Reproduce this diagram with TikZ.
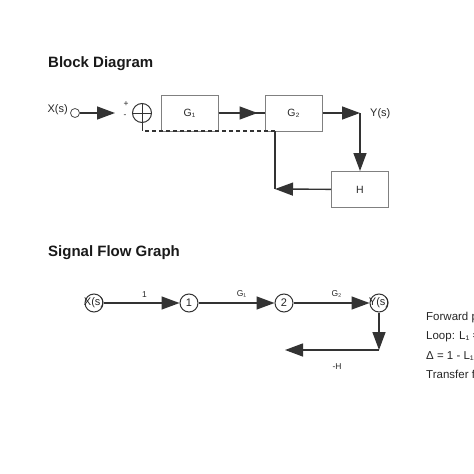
\documentclass[tikz,border=0pt]{standalone}
\usepackage{fontspec}
\setmainfont{Liberation Sans}
\usetikzlibrary{arrows.meta}

\begin{document}
\begin{tikzpicture}[x=1pt,y=-1pt,
    lne/.style={line width=1.4pt,draw=black!80},
    tip/.style={lne,-{Triangle[length=18pt,width=13pt]}},
    blk/.style={draw=black!50,line width=1pt,minimum width=57pt,minimum height=36pt,inner sep=0pt,font=\fontsize{10.5}{12}\selectfont,text=black!85},
    sfg/.style={draw=black!80,line width=1pt,circle,minimum size=18pt,inner sep=0pt,fill=white},
    ttl/.style={anchor=base west,inner sep=0pt,font=\fontsize{15}{18}\bfseries\selectfont,text=black!90},
    lbl/.style={inner sep=0pt,font=\fontsize{11}{13}\selectfont,text=black!85},
    frm/.style={anchor=west,inner sep=0pt,font=\fontsize{11.5}{13}\selectfont,text=black!85},
    sml/.style={inner sep=0pt,font=\fontsize{8.5}{10}\selectfont,text=black!85}]
  \useasboundingbox (0,0) rectangle (474,474) ;
  % block diagram
  \node[ttl] (bdtitle) at (48,67) {Block Diagram} ;
  \node[lbl,anchor=east] (xs) at (68,110) {X(s)} ;
  \node[circle,draw=black!70,line width=0.8pt,minimum size=9pt,inner sep=0pt] (in) at (75,113) {} ;
  \node[circle,draw=black!80,line width=1pt,minimum size=19pt,inner sep=0pt] (sum) at (142,113) {} ;
  \node[sml] (plus) at (126,104) {+} ;
  \node[sml] (minus) at (125,116) {-} ;
  \node[blk] (g1) at (189.5,113) {G₁} ;
  \node[blk] (g2) at (293.5,113) {G₂} ;
  \node[blk] (h) at (360,189.5) {H} ;
  \node[lbl,anchor=west] (ys) at (370,114) {Y(s)} ;
  \coordinate (ybr) at (360,113) ;
  \coordinate (fbc) at (275,189) ;
  \coordinate (fbt) at (275,131) ;
  \coordinate (sumb) at (142,131) ;
  \draw[black!80,line width=1pt] (sum.west) -- (sum.east) (sum.north) -- (sumb) ;
  \draw[tip,shorten >=17pt] (in) -- (sum.west) ;
  \draw[lne] (g1) -- (g2) ;
  \draw[tip,shorten >=7pt] (g1) -- (g2) ;
  \draw[tip] (g2) -- (ybr) ;
  \draw[tip] (ybr) -- (h) ;
  \draw[tip] (h) -- (fbc) ;
  \draw[lne] (fbc) -- (fbt) ;
  \draw[lne,dash pattern=on 4pt off 3pt] (fbt) -- ([xshift=3pt]sumb) ;
  % signal flow graph
  \node[ttl] (sfgtitle) at (48,256) {Signal Flow Graph} ;
  \node[sfg] (sx) at (94,303) {} ;
  \node[sfg] (s1) at (189,303) {} ;
  \node[sfg] (s2) at (284,303) {} ;
  \node[sfg] (sy) at (379,303) {} ;
  \coordinate (yd) at (379,350) ;
  \coordinate (fl) at (285,350) ;
  \draw[tip] (sx) -- (s1) node[sml,midway,above=5pt,xshift=3pt] {1} ;
  \draw[tip] (s1) -- (s2) node[sml,midway,above=5pt,xshift=5pt] {G₁} ;
  \draw[tip] (s2) -- (sy) node[sml,midway,above=5pt,xshift=5pt] {G₂} ;
  \draw[tip] (sy) -- (yd) ;
  \draw[tip] (yd) -- (fl) node[sml,midway,below=13pt,xshift=5pt] {-H} ;
  \node[lbl] at (sx) {X(s)} ;
  \node[lbl] at (s1) {1} ;
  \node[lbl] at (s2) {2} ;
  \node[lbl] at (sy) {Y(s)} ;
  % formulas
  \node[frm] (fwd) at (426,318) {Forward path: P₁ = G₁G₂} ;
  \node[frm] (loop) at (426,337) {Loop: L₁ = -G₁G₂H} ;
  \node[frm] (delta) at (426,356) {Δ = 1 - L₁ = 1 + G₁G₂H} ;
  \node[frm] (tf) at (426,375) {Transfer function: Y/X = P₁/Δ} ;
\end{tikzpicture}
\end{document}
